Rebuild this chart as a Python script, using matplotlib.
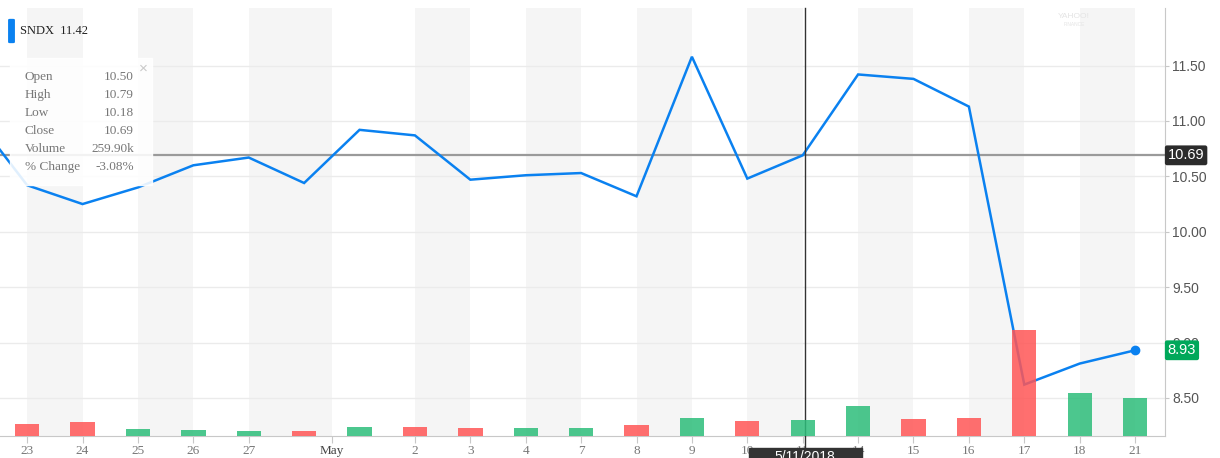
import numpy as np
import matplotlib.pyplot as plt
from matplotlib.patches import FancyBboxPatch, Rectangle

# trading days shown (Apr 23 - May 21, 2018), plus Apr 20 just off the left edge
days = ['Apr 20', '23', '24', '25', '26', '27', '30', 'May 1', '2', '3', '4', '7', '8',
        '9', '10', '11', '14', '15', '16', '17', '18', '21']
close = [11.07, 10.42, 10.25, 10.40, 10.60, 10.67, 10.44, 10.92, 10.87, 10.47, 10.51,
         10.53, 10.32, 11.58, 10.48, 10.69, 11.42, 11.38, 11.13, 8.62, 8.81, 8.93]
volume_k = [None, 200, 232, 119, 102, 86, 86, 151, 151, 135, 135, 135, 184, 292, 244,
            260, 487, 276, 292, 1720, 698, 617]

tick_pos = [0, 1, 2, 3, 4, 5.5, 7, 8, 9, 10, 11, 12, 13, 14, 15, 16, 17, 18, 19, 20]
tick_lab = ['23', '24', '25', '26', '27', 'May', '2', '3', '4', '7', '8', '9', '10', '11',
            '14', '15', '16', '17', '18', '21']
y_ticks = [8.5, 9.0, 9.5, 10.0, 10.5, 11.0, 11.5]

tooltip = [('Open', '10.50'), ('High', '10.79'), ('Low', '10.18'), ('Close', '10.69'),
           ('Volume', '259.90k'), ('% Change', '-3.08%')]
ref_close = 10.69
hover_idx = 14
hover_date = '5/11/2018'

x = np.arange(len(close)) - 1  # Apr 20 sits at -1
blue = '#0a81f0'
red = '#ff5656'
green = '#2dbd7a'
serif = 'Liberation Serif'
sans = 'Liberation Sans'

fig = plt.figure(figsize=(12.2, 4.58), dpi=100)
ax = fig.add_axes([0, 22 / 458, 1165 / 1220, 428 / 458])
ax.set_xlim(-0.49, 20.54)
ax.set_ylim(8.156, 12.02)

# alternate bands between labelled ticks
for k in range(0, len(tick_pos) - 1, 2):
    ax.axvspan(tick_pos[k], tick_pos[k + 1], color='#f5f5f5', lw=0, zorder=0)
for yv in y_ticks:
    ax.axhline(yv, color='#ebebeb', lw=1, zorder=1)

ax.plot(x, close, color=blue, lw=1.8, zorder=3, solid_joinstyle='miter')
ax.plot(x[-1], close[-1], 'o', color=blue, ms=6, zorder=4)
ax.axhline(ref_close, color='#9a9a9a', lw=1.6, zorder=2)

# volume on a hidden axis, coloured by close vs previous close
vax = ax.twinx()
vax.set_ylim(0, 6950)
vax.axis('off')
for i in range(1, len(close)):
    c = green if close[i] >= close[i - 1] else red
    vax.bar(x[i], volume_k[i], width=0.44, color=c, alpha=0.85, lw=0, zorder=5)

for s in ['top', 'left']:
    ax.spines[s].set_visible(False)
ax.spines['bottom'].set_color('#c8c8c8')
ax.spines['right'].set_color('#c8c8c8')
ax.yaxis.tick_right()
ax.set_yticks(y_ticks)
ax.set_yticklabels(['%.2f' % v for v in y_ticks], fontfamily=sans, fontsize=10, color='#555555')
ax.tick_params(axis='y', length=3, color='#c8c8c8', pad=2)
ax.set_xticks(tick_pos)
ax.set_xticklabels(tick_lab, fontfamily=serif, fontsize=9.5, color='#777777')
for lab in ax.get_xticklabels():
    if lab.get_text() == 'May':
        lab.set_color('#444444')
ax.tick_params(axis='x', length=5, color='#c8c8c8', pad=1.5)

# crosshair and date flag
ax.axvline(hover_idx + 0.04, color='#333333', lw=1, zorder=6, clip_on=False, ymin=-0.03, ymax=1.0)
fig.patches.append(Rectangle((749 / 1220, -0.01), 113 / 1220, 10 / 458 + 0.01,
                             transform=fig.transFigure, color='#333333', zorder=10))
fig.text(805 / 1220, (458 - 450) / 458, hover_date, color='white', fontfamily=sans,
         fontsize=10, ha='center', va='top', zorder=11)

# price flags on the right axis
for val, col in [(ref_close, '#2b2b2b'), (close[-1], '#00a85a')]:
    ax.annotate('%.2f' % val, xy=(1.0, val), xycoords=('axes fraction', 'data'),
                xytext=(2, 0), textcoords='offset points', va='center', ha='left',
                color='white', fontfamily=sans, fontsize=10.5,
                bbox=dict(boxstyle='round,pad=0.2,rounding_size=0.15', fc=col, ec='none'),
                zorder=12, annotation_clip=False)

# legend tag
fig.patches.append(FancyBboxPatch((10 / 1220, (458 - 42) / 458), 3 / 1220, 22 / 458,
                                  boxstyle='round,pad=0.001', transform=fig.transFigure,
                                  color=blue, zorder=10))
fig.text(20 / 1220, (458 - 31) / 458, 'SNDX  11.42', fontfamily=serif, fontsize=9,
         color='#222222', va='center', zorder=11)

# tooltip
fig.patches.append(Rectangle((10 / 1220, (458 - 185) / 458), 142 / 1220, 127 / 458,
                             transform=fig.transFigure, color='white', alpha=0.88, zorder=8))
for r, (name, val) in enumerate(tooltip):
    yy = (458 - 77 - 18 * r) / 458
    fig.text(25 / 1220, yy, name, fontfamily=serif, fontsize=9.5, color='#777777',
             va='center', zorder=9)
    fig.text(134 / 1220, yy, val, fontfamily=serif, fontsize=9.5, color='#777777',
             va='center', ha='right', zorder=9)
fig.text(143 / 1220, (458 - 69) / 458, '\u00d7', fontfamily=sans, fontsize=11,
         color='#c8c8c8', va='center', ha='center', zorder=9)

# faint watermark
fig.text(1074 / 1220, (458 - 17) / 458, 'YAHOO!', fontfamily=sans, fontsize=6,
         color='#e4e4e4', ha='center', va='center')
fig.text(1074 / 1220, (458 - 24) / 458, 'FINANCE', fontfamily=sans, fontsize=3.5,
         color='#e4e4e4', ha='center', va='center')

fig.savefig('out.png', dpi=100)
